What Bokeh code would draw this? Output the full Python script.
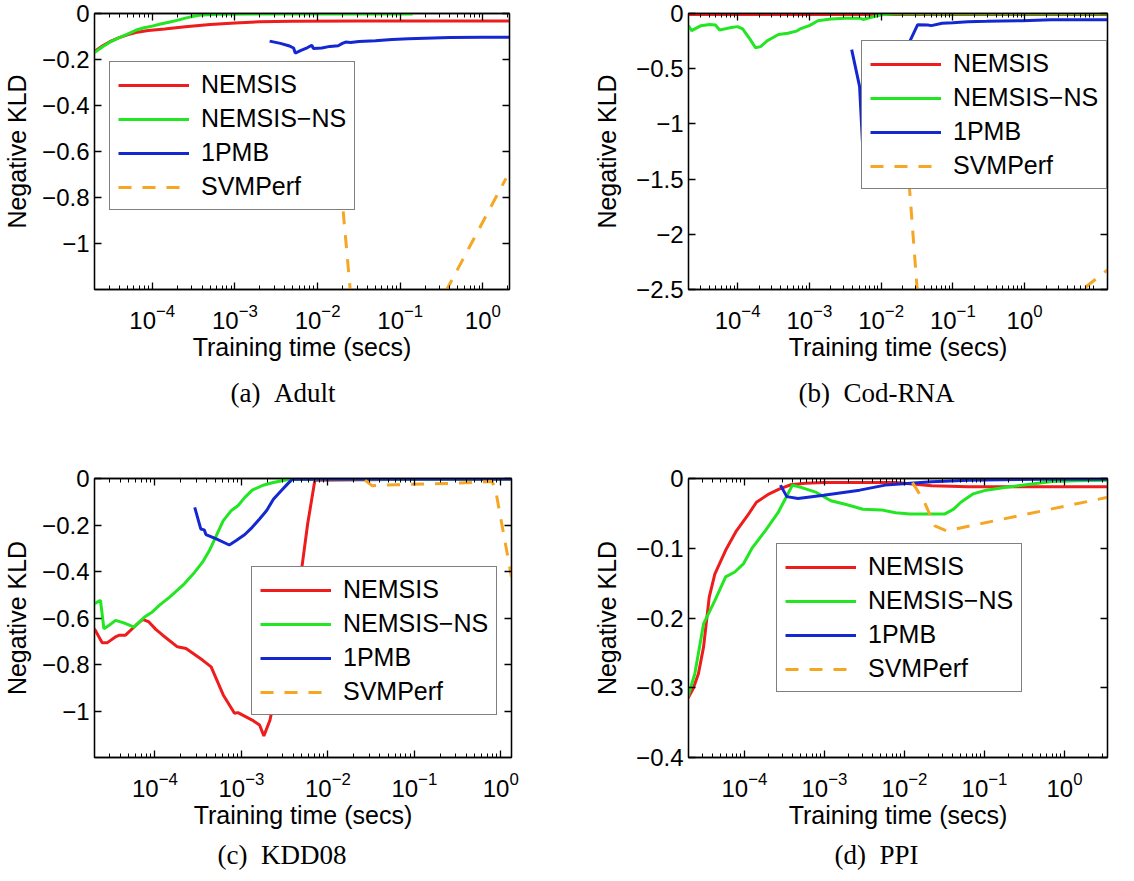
import numpy as np
from bokeh.plotting import figure
from bokeh.models import (Range1d, FixedTicker, LinearAxis, LogAxis, Legend, LegendItem,
                          CustomJSTickFormatter, Title)
from bokeh.layouts import column, row
from bokeh.embed import file_html
from bokeh.resources import INLINE

# ---------------- data (x stored as log10 of training time in seconds) ----------------
SERIES = ["NEMSIS", "NEMSIS\u2212NS", "1PMB", "SVMPerf"]
X_MAJOR = [1e-4, 1e-3, 1e-2, 1e-1, 1e0]
X_MINOR = [k * 10.0 ** e for e in range(-5, 2) for k in range(2, 10)]

# (a) Adult
adult_nemsis_lt = [-4.70, -4.60, -4.50, -4.40, -4.30, -4.20, -4.05, -3.85, -3.60, -3.30, -3.00, -2.70, -2.30, -1.50, 0.32]
adult_nemsis_y = [-0.165, -0.14, -0.12, -0.105, -0.093, -0.083, -0.074, -0.067, -0.058, -0.048, -0.041, -0.036, -0.034, -0.033, -0.033]
adult_ns_lt = [-4.70, -4.60, -4.50, -4.40, -4.30, -4.20, -4.10, -4.00, -3.90, -3.80, -3.70, -3.60, -3.50, -3.40, -3.20, -2.50, -0.85]
adult_ns_y = [-0.17, -0.145, -0.122, -0.105, -0.09, -0.073, -0.062, -0.055, -0.046, -0.038, -0.03, -0.02, -0.012, -0.006, -0.003, -0.002, -0.002]
adult_1pmb_lt = [-2.58, -2.45, -2.35, -2.29, -2.27, -2.20, -2.12, -2.07, -2.05, -1.95, -1.85, -1.75, -1.70, -1.66, -1.60, -1.50, -1.30, -1.10, -0.90, -0.60, -0.40, 0.00, 0.32]
adult_1pmb_y = [-0.12, -0.13, -0.14, -0.15, -0.172, -0.16, -0.148, -0.138, -0.152, -0.15, -0.143, -0.14, -0.13, -0.124, -0.126, -0.122, -0.118, -0.113, -0.11, -0.106, -0.104, -0.103, -0.103]
adult_svm_lt = [-1.69, -1.437, 0.28]
adult_svm_y = [-0.86, -1.875, -0.717]

# (b) Cod-RNA
cod_nemsis_lt = [-4.69, -2.0, 1.16]
cod_nemsis_y = [-0.008, -0.008, -0.008]
cod_ns_lt = [-4.685, -4.64, -4.51, -4.39, -4.31, -4.25, -4.11, -4.00, -3.93, -3.83, -3.75, -3.68, -3.58, -3.43, -3.30, -3.18, -3.13, -3.00, -2.88, -2.70, -2.50, -2.30, -2.25, -2.15, -2.00, -1.80, 1.16]
cod_ns_y = [-0.11, -0.155, -0.11, -0.10, -0.104, -0.149, -0.13, -0.119, -0.14, -0.23, -0.31, -0.30, -0.244, -0.19, -0.179, -0.16, -0.14, -0.11, -0.065, -0.05, -0.042, -0.042, -0.054, -0.036, -0.012, -0.003, -0.003]
cod_1pmb_lt = [-2.41, -2.30, -2.26, -1.49, -1.35, -1.30, -1.15, -1.00, -0.79, -0.53, -0.03, 0.37, 1.16]
cod_1pmb_y = [-0.327, -0.66, -1.16, -0.101, -0.104, -0.11, -0.089, -0.083, -0.074, -0.071, -0.065, -0.057, -0.057]
cod_svm_lt = [-1.66, -1.368, 1.16]
cod_svm_y = [-1.1, -3.61, -2.32]

# (c) KDD08
kdd_nemsis_lt = [-4.70, -4.61, -4.55, -4.45, -4.41, -4.34, -4.22, -4.14, -4.07, -3.99, -3.91, -3.74, -3.64, -3.45, -3.35, -3.21, -3.08, -3.04, -2.875, -2.79, -2.74, -2.67, -2.30, -2.234, -2.15, -1.0, 0.13]
kdd_nemsis_y = [-0.646, -0.706, -0.706, -0.68, -0.674, -0.674, -0.631, -0.606, -0.617, -0.649, -0.674, -0.724, -0.731, -0.781, -0.81, -0.931, -1.01, -1.007, -1.039, -1.06, -1.107, -1.04, -0.381, -0.196, -0.007, -0.003, -0.003]
kdd_ns_lt = [-4.70, -4.63, -4.59, -4.53, -4.455, -4.36, -4.24, -4.18, -4.12, -4.03, -3.95, -3.83, -3.66, -3.54, -3.45, -3.37, -3.29, -3.21, -3.12, -3.04, -2.96, -2.875, -2.75, -2.63, -2.46, 0.13]
kdd_ns_y = [-0.539, -0.524, -0.646, -0.631, -0.61, -0.621, -0.639, -0.617, -0.596, -0.574, -0.546, -0.51, -0.453, -0.403, -0.36, -0.31, -0.246, -0.181, -0.139, -0.117, -0.081, -0.05, -0.029, -0.017, -0.004, -0.002]
kdd_1pmb_lt = [-3.54, -3.47, -3.43, -3.41, -3.29, -3.14, -3.06, -2.96, -2.875, -2.79, -2.71, -2.63, -2.54, -2.46, -2.41, 0.13]
kdd_1pmb_y = [-0.124, -0.217, -0.221, -0.241, -0.26, -0.286, -0.267, -0.241, -0.21, -0.174, -0.139, -0.089, -0.053, -0.021, -0.003, -0.002]
kdd_svm_lt = [-1.57, -1.49, -1.22, -0.60, -0.10, -0.062, 0.124]
kdd_svm_y = [-0.007, -0.031, -0.027, -0.021, -0.013, -0.046, -0.424]

# (d) PPI
ppi_nemsis_lt = [-4.706, -4.64, -4.575, -4.51, -4.44, -4.37, -4.235, -4.10, -3.96, -3.85, -3.69, -3.56, -3.42, -3.24, -3.01, -2.11, -1.66, -1.20, 0.54]
ppi_nemsis_y = [-0.315, -0.301, -0.28, -0.241, -0.17, -0.137, -0.103, -0.075, -0.053, -0.034, -0.022, -0.015, -0.009, -0.0067, -0.0057, -0.0057, -0.0105, -0.012, -0.012]
ppi_ns_lt = [-4.706, -4.62, -4.51, -4.37, -4.235, -4.12, -4.01, -3.90, -3.74, -3.58, -3.47, -3.40, -3.285, -3.10, -2.92, -2.74, -2.52, -2.29, -2.11, -1.93, -1.66, -1.50, -1.385, -1.295, -1.14, -0.98, -0.75, -0.48, -0.16, 0.154, 0.54]
ppi_ns_y = [-0.313, -0.28, -0.208, -0.175, -0.141, -0.134, -0.122, -0.099, -0.075, -0.049, -0.025, -0.0095, -0.013, -0.02, -0.032, -0.037, -0.044, -0.045, -0.049, -0.051, -0.051, -0.051, -0.044, -0.034, -0.022, -0.0167, -0.013, -0.009, -0.0043, -0.0033, -0.0024]
ppi_1pmb_lt = [-3.55, -3.47, -3.33, -3.01, -2.56, -2.24, -1.97, -1.66, -1.20, -0.30, 0.54]
ppi_1pmb_y = [-0.0095, -0.026, -0.0286, -0.024, -0.0167, -0.0095, -0.007, -0.0048, -0.0024, -0.001, -0.001]
ppi_svm_lt = [-1.90, -1.86, -1.75, -1.62, -1.475, 0.54]
ppi_svm_y = [-0.006, -0.013, -0.034, -0.068, -0.075, -0.027]

COLORS = ["#ee1c1c", "#22e622", "#1428d2", "#f5a623"]
DASHES = ["solid", "solid", "solid", "13 11"]

SANS = "Liberation Sans"
SERIF = "Liberation Serif"
GAP = "\u00a0\u00a0"

Y_FMT = CustomJSTickFormatter(code="""
if (Math.abs(tick) < 1e-9) { return "0"; }
const s = String(parseFloat(Math.abs(tick).toFixed(3)));
return (tick < 0 ? "\u2212" : "") + s;
""")
EMPTY_FMT = CustomJSTickFormatter(code="return '';")


def style_axis(ax, minor=True):
    ax.axis_line_color = "black"
    ax.axis_line_width = 1.3
    ax.major_tick_line_color = "black"
    ax.major_tick_line_width = 1.3
    ax.major_tick_in = 7
    ax.major_tick_out = 0
    ax.minor_tick_line_color = "black" if minor else None
    ax.minor_tick_in = 4
    ax.minor_tick_out = 0
    ax.major_label_text_color = "black"
    ax.major_label_text_font = SANS
    ax.major_label_text_font_size = "24px"
    ax.axis_label_text_color = "black"
    ax.axis_label_text_font = SANS
    ax.axis_label_text_font_size = "25px"
    ax.axis_label_text_font_style = "normal"


def make_panel(series, xr, yr, yticks, caption, legend_xy, width, height, borders,
               cap_offset, ylab_standoff, cap_standoff):
    bl, br, bt, bb = borders
    p = figure(width=width, height=height, x_axis_type="log",
               x_range=Range1d(*xr), y_range=Range1d(*yr),
               output_backend="svg", toolbar_location=None,
               min_border_left=bl, min_border_right=br, min_border_top=bt, min_border_bottom=bb,
               background_fill_color="white", border_fill_color="white")
    p.xgrid.visible = False
    p.ygrid.visible = False
    p.outline_line_color = "black"
    p.outline_line_width = 1.3

    xa = p.xaxis[0]
    xa.ticker = FixedTicker(ticks=X_MAJOR, minor_ticks=X_MINOR)
    xa.axis_label = "Training time (secs)"
    style_axis(xa)
    xa.major_label_standoff = 14
    xa.axis_label_standoff = 1

    ya = p.yaxis[0]
    ya.ticker = FixedTicker(ticks=yticks)
    ya.formatter = Y_FMT
    ya.axis_label = "Negative KLD"
    style_axis(ya, minor=False)
    ya.major_label_standoff = 5
    ya.axis_label_standoff = ylab_standoff

    top = LogAxis(ticker=FixedTicker(ticks=X_MAJOR, minor_ticks=X_MINOR), formatter=EMPTY_FMT)
    style_axis(top)
    top.major_label_standoff = 0
    top.major_label_text_font_size = "0px"
    p.add_layout(top, "above")
    right = LinearAxis(ticker=FixedTicker(ticks=yticks), formatter=EMPTY_FMT)
    style_axis(right, minor=False)
    right.major_label_standoff = 0
    right.major_label_text_font_size = "0px"
    p.add_layout(right, "right")

    items = []
    for name, (lt, ys), color, dash in zip(SERIES, series, COLORS, DASHES):
        xs = [10.0 ** v for v in lt]
        r = p.line(xs, ys, line_color=color, line_width=3, line_dash=dash)
        items.append(LegendItem(label=name, renderers=[r]))
    legend = Legend(items=items, location=legend_xy, margin=0, padding=8, spacing=5,
                    glyph_width=71, glyph_height=28, label_height=28, label_standoff=12,
                    label_text_font=SANS, label_text_font_size="25px", label_text_color="black",
                    border_line_color="black", border_line_width=1.3,
                    background_fill_color="white", background_fill_alpha=1.0)
    p.add_layout(legend)

    p.add_layout(Title(text=caption, align="left", vertical_align="top",
                       text_font=SERIF, text_font_size="27px",
                       text_font_style="normal", text_color="black", standoff=cap_standoff,
                       offset=cap_offset), "below")
    return p


pa = make_panel([(adult_nemsis_lt, adult_nemsis_y), (adult_ns_lt, adult_ns_y),
                 (adult_1pmb_lt, adult_1pmb_y), (adult_svm_lt, adult_svm_y)],
                (2e-5, 2.1), (-1.2, 0), [-1, -0.8, -0.6, -0.4, -0.2, 0], "(a)" + GAP + "Adult",
                (15, 79), 567, 440, (92, 58, 13, 151), 136, 8, 28)
pb = make_panel([(cod_nemsis_lt, cod_nemsis_y), (cod_ns_lt, cod_ns_y),
                 (cod_1pmb_lt, cod_1pmb_y), (cod_svm_lt, cod_svm_y)],
                (2.07e-5, 14.3), (-2.5, 0), [-2.5, -2, -1.5, -1, -0.5, 0], "(b)" + GAP + "Cod-RNA",
                (173, 100), 567, 440, (121, 27, 13, 151), 110, 12, 28)
pc = make_panel([(kdd_nemsis_lt, kdd_nemsis_y), (kdd_ns_lt, kdd_ns_y),
                 (kdd_1pmb_lt, kdd_1pmb_y), (kdd_svm_lt, kdd_svm_y)],
                (2e-5, 1.33), (-1.2, 0), [-1, -0.8, -0.6, -0.4, -0.2, 0], "(c)" + GAP + "KDD08",
                (157, 42), 567, 441, (92, 56, 38, 124), 123, 8, 16)
pd_ = make_panel([(ppi_nemsis_lt, ppi_nemsis_y), (ppi_ns_lt, ppi_ns_y),
                  (ppi_1pmb_lt, ppi_1pmb_y), (ppi_svm_lt, ppi_svm_y)],
                 (2e-5, 3.45), (-0.4, 0), [-0.4, -0.3, -0.2, -0.1, 0], "(d)" + GAP + "PPI",
                 (88, 65), 567, 441, (121, 27, 38, 124), 146, 12, 16)

layout = column(row(pa, pb), row(pc, pd_))
open("out.html", "w").write(file_html(layout, INLINE))
